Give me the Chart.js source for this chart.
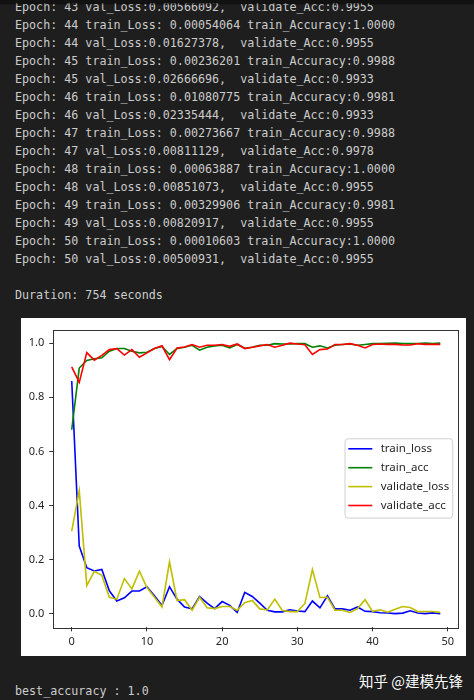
<!DOCTYPE html>
<html>
<head>
<meta charset="utf-8">
<script src="https://cdn.jsdelivr.net/npm/chart.js@4.4.1/dist/chart.umd.min.js"></script>
<style>
  html, body { margin: 0; padding: 0; width: 474px; height: 700px; overflow: hidden; background: #1e1e1e; }
  #topbar { position: absolute; left: 0; top: 0; width: 474px; height: 3px; background: #121212; box-shadow: 0 1px 2px rgba(0,0,0,0.6); z-index: 2; }
  .mono { position: absolute; left: 15px; margin: 0; font: 11.7px "DejaVu Sans Mono", monospace; color: #cccccc; white-space: pre; line-height: 18px; }
  #log { top: -1.8px; }
  #best { top: 681.5px; }
  #panel { position: absolute; left: 21px; top: 318px; width: 445px; height: 338px; background: #ffffff; }
  #panel canvas { display: block; }
  #mark { position: absolute; left: 359px; top: 670px; font: 14.5px "Noto Sans CJK SC", sans-serif; color: #ffffff; white-space: pre; text-shadow: 0 0 1px rgba(0,0,0,0.4); }
</style>
</head>
<body>
<div id="topbar"></div>
<pre id="log" class="mono"></pre>
<pre id="best" class="mono"></pre>
<div id="panel"><canvas id="c" width="445" height="338"></canvas></div>
<div id="mark">知乎 @建模先锋</div>
<script>
// per-epoch history, epoch 1..50 plotted at x = 0..49
const trainLoss = [0.86, 0.25, 0.17, 0.158, 0.164, 0.085, 0.047, 0.059, 0.084, 0.084,
  0.10, 0.067, 0.031, 0.10, 0.054, 0.025, 0.018, 0.064, 0.039, 0.019,
  0.045, 0.031, 0.005, 0.079, 0.064, 0.039, 0.013, 0.007, 0.007, 0.015,
  0.010, 0.008, 0.047, 0.022, 0.066, 0.018, 0.018, 0.013, 0.025, 0.009,
  0.008, 0.004, 0.003, 0.00054064, 0.00236201, 0.01080775, 0.00273667, 0.00063887, 0.00329906, 0.00010603];
const trainAcc = [0.68, 0.908, 0.936, 0.942, 0.946, 0.97, 0.98, 0.98, 0.97, 0.964,
  0.966, 0.98, 0.988, 0.958, 0.98, 0.985, 0.992, 0.974, 0.985, 0.99,
  0.992, 0.982, 0.995, 0.981, 0.985, 0.992, 0.992, 0.998, 0.997, 0.997,
  0.998, 0.998, 0.985, 0.99, 0.982, 0.992, 0.995, 0.997, 0.992, 0.995,
  0.998, 0.998, 0.999, 1.0, 0.9988, 0.9981, 0.9988, 1.0, 0.9981, 1.0];
const validateLoss = [0.305, 0.455, 0.104, 0.157, 0.142, 0.061, 0.054, 0.130, 0.092, 0.157,
  0.097, 0.061, 0.025, 0.192, 0.049, 0.052, 0.013, 0.061, 0.022, 0.019,
  0.027, 0.027, 0.013, 0.041, 0.049, 0.018, 0.014, 0.054, 0.012, 0.008,
  0.008, 0.038, 0.163, 0.060, 0.061, 0.013, 0.013, 0.005, 0.019, 0.052,
  0.009, 0.015, 0.00566092, 0.01627378, 0.02666696, 0.02335444, 0.00811129, 0.00851073, 0.00820917, 0.00500931];
const validateAcc = [0.912, 0.855, 0.965, 0.937, 0.955, 0.976, 0.98, 0.956, 0.976, 0.948,
  0.964, 0.98, 0.99, 0.939, 0.982, 0.986, 0.995, 0.985, 0.992, 0.992,
  0.995, 0.988, 0.997, 0.98, 0.985, 0.99, 0.995, 0.985, 0.992, 1.0,
  0.997, 0.994, 0.958, 0.976, 0.978, 0.995, 0.995, 0.998, 0.992, 0.982,
  0.995, 0.997, 0.9955, 0.9955, 0.9933, 0.9933, 0.9978, 0.9955, 0.9955, 0.9955];

const seriesNames = ['train_loss', 'train_acc', 'validate_loss', 'validate_acc'];
const seriesColors = ['#0000ff', '#008000', '#bfbf00', '#ff0000'];
const xTicks = [0, 10, 20, 30, 40, 50];
const yTicks = [0.0, 0.2, 0.4, 0.6, 0.8, 1.0];
const durationSeconds = 754;

// console log of the last epochs
const lines = [];
for (let e = 43; e <= 50; e++) {
  const i = e - 1;
  if (e > 43) lines.push(`Epoch: ${e} train_Loss: ${trainLoss[i].toFixed(8)} train_Accuracy:${trainAcc[i].toFixed(4)}`);
  lines.push(`Epoch: ${e} val_Loss:${validateLoss[i].toFixed(8)},  validate_Acc:${validateAcc[i].toFixed(4)}`);
}
lines.push('');
lines.push(`Duration: ${durationSeconds} seconds`);
document.getElementById('log').textContent = lines.join('\n');
document.getElementById('best').textContent = `best_accuracy : ${Math.max(...validateAcc).toFixed(1)}`;

const toPoints = arr => arr.map((v, i) => ({ x: i, y: v }));
const allSeries = [trainLoss, trainAcc, validateLoss, validateAcc];

// axes frame on all four sides
const frame = {
  id: 'frame',
  afterDatasetsDraw(chart) {
    const { ctx, chartArea: a } = chart;
    ctx.save();
    ctx.strokeStyle = '#333333';
    ctx.lineWidth = 1;
    ctx.strokeRect(Math.round(a.left) + 0.5, Math.round(a.top) + 0.5,
      Math.round(a.right - a.left), Math.round(a.bottom - a.top));
    ctx.restore();
  }
};

// legend box placed at the centre right of the plot area
const insetLegend = {
  id: 'insetLegend',
  afterDraw(chart) {
    const { ctx, chartArea: a } = chart;
    const sets = chart.data.datasets;
    const w = 107.7, rowH = 18.9, h = 79.3;
    const x = a.right - 6 - w;
    const y = (a.top + a.bottom) / 2 - h / 2;
    ctx.save();
    ctx.beginPath();
    ctx.roundRect(x, y, w, h, 3);
    ctx.fillStyle = 'rgba(255,255,255,0.8)';
    ctx.fill();
    ctx.strokeStyle = '#d0d0d0';
    ctx.lineWidth = 1;
    ctx.stroke();
    ctx.font = '11.5px "Noto Sans", sans-serif';
    ctx.textBaseline = 'middle';
    ctx.textAlign = 'left';
    sets.forEach((ds, k) => {
      const cy = y + 10 + k * rowH;
      ctx.beginPath();
      ctx.moveTo(x + 3.3, cy);
      ctx.lineTo(x + 27.3, cy);
      ctx.strokeStyle = ds.borderColor;
      ctx.lineWidth = 1.6;
      ctx.stroke();
      ctx.fillStyle = '#262626';
      ctx.fillText(ds.label, x + 35.7, cy);
    });
    ctx.restore();
  }
};

const tickFont = { family: '"Noto Sans", sans-serif', size: 11 };

new Chart(document.getElementById('c'), {
  type: 'line',
  data: {
    datasets: allSeries.map((arr, k) => ({
      label: seriesNames[k],
      data: toPoints(arr),
      borderColor: seriesColors[k],
      backgroundColor: seriesColors[k],
      borderWidth: 1.6,
      pointRadius: 0,
      tension: 0,
      fill: false,
      order: 4 - k
    }))
  },
  options: {
    responsive: false,
    animation: false,
    layout: { padding: { top: 7, right: 7.3, left: 0, bottom: 0 } },
    plugins: { legend: { display: false }, tooltip: { enabled: false } },
    scales: {
      x: {
        type: 'linear',
        min: -2.45,
        max: 51.45,
        afterBuildTicks: s => { s.ticks = xTicks.map(v => ({ value: v })); },
        afterFit: s => { s.height = 28.7; },
        grid: { drawOnChartArea: false, tickLength: 4, color: '#333333' },
        border: { display: false },
        ticks: { color: '#262626', font: tickFont, padding: 4, maxRotation: 0, autoSkip: false,
          callback: v => String(v) }
      },
      y: {
        type: 'linear',
        min: -0.05,
        max: 1.05,
        afterBuildTicks: s => { s.ticks = yTicks.map(v => ({ value: v })); },
        afterFit: s => { s.width = 32.3; },
        grid: { drawOnChartArea: false, tickLength: 4, color: '#333333' },
        border: { display: false },
        ticks: { color: '#262626', font: tickFont, padding: 5, autoSkip: false,
          callback: v => Number(v).toFixed(1) }
      }
    }
  },
  plugins: [frame, insetLegend]
});
</script>
</body>
</html>
